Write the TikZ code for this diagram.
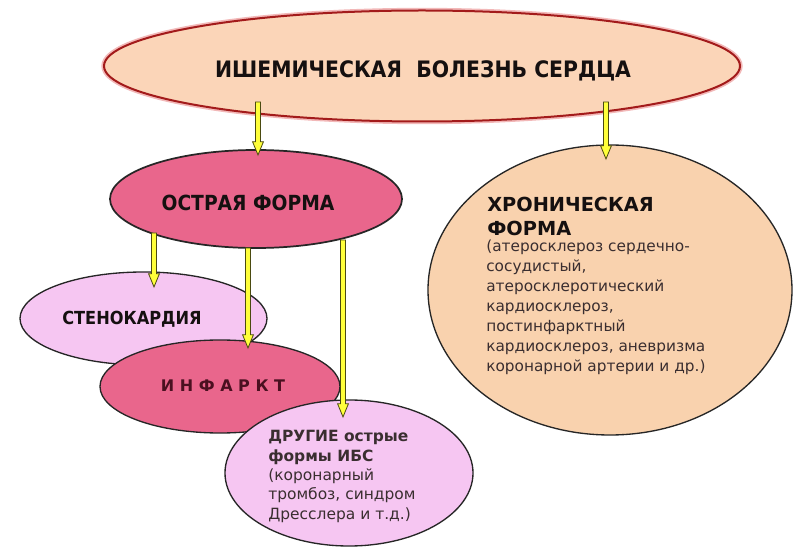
\documentclass[tikz,border=0pt]{standalone}
\usepackage{fontspec}
\setmainfont{DejaVu Sans}
\newfontfamily\condfont{DejaVu Sans Condensed}
\usetikzlibrary{shapes.geometric,calc}
\definecolor{peach}{HTML}{FBD5B8}
\definecolor{peachb}{HTML}{F9D2AE}
\definecolor{rosepink}{HTML}{E9668C}
\definecolor{lilac}{HTML}{F6C6F2}
\definecolor{darkred}{HTML}{A31B1B}
\definecolor{glow}{HTML}{F2B8B8}
\definecolor{arrowfill}{HTML}{FFFF3A}
\definecolor{arrowline}{HTML}{4A4A10}
\definecolor{headtext}{HTML}{151010}
\definecolor{bodytext}{HTML}{3A2E30}
\definecolor{maroon}{HTML}{4A1020}
\tikzset{
  ellbox/.style={ellipse, draw=black!85, line width=1pt, inner sep=0pt},
  barrow/.style={fill=arrowfill, draw=arrowline, line width=0.6pt, line join=miter},
  lbl/.style={inner sep=0pt, text=headtext},
}
\newcommand\blockarrow[2]{%
  \draw[barrow] let \p1=(#1), \p2=(#2) in
    (\x1-1.9pt,\y1) -- (\x1-1.9pt,\y2+10pt) -- (\x1-4.1pt,\y2+10pt) -- (\x1,\y2)
    -- (\x1+4.1pt,\y2+10pt) -- (\x1+1.9pt,\y2+10pt) -- (\x1+1.9pt,\y1) -- cycle;}
\begin{document}
\begin{tikzpicture}[x=0.75pt,y=-0.75pt]
\useasboundingbox (0,0) rectangle (800,552);
\fill[white] (0,0) rectangle (800,552);
% top ellipse with faint glow
\node[ellipse, draw=glow, line width=4pt, minimum width=477pt, minimum height=83.25pt, inner sep=0pt] (topglow) at (422,66) {};
\node[ellbox, fill=peach, draw=darkred, line width=1.5pt, minimum width=477pt, minimum height=83.25pt] (top) at (422,66) {};
\node[lbl, font=\condfont\bfseries\fontsize{17}{20}\selectfont] (title) at (423,70.5) {ИШЕМИЧЕСКАЯ\ \ БОЛЕЗНЬ СЕРДЦА};
% acute
\node[ellbox, fill=rosepink, line width=1.3pt, minimum width=219pt, minimum height=73.5pt] (acute) at (256,199) {};
\node[lbl, font=\condfont\bfseries\fontsize{15.6}{18}\selectfont] (acutet) at (248,203) {ОСТРАЯ ФОРМА};
% chronic
\node[ellbox, fill=peachb, minimum width=273pt, minimum height=217.5pt] (chronic) at (610,290) {};
\node[lbl, anchor=north west, align=left, font=\bfseries\fontsize{14.5}{18}\selectfont] (chronhead) at (487,197) {ХРОНИЧЕСКАЯ\\ФОРМА};
\node[lbl, anchor=north west, align=left, text=bodytext, font=\fontsize{11.5}{15}\selectfont] (chronbody) at (486,240) {(атеросклероз сердечно-\\сосудистый,\\атеросклеротический\\кардиосклероз,\\постинфарктный\\кардиосклероз, аневризма\\коронарной артерии и др.)};
% stenocardia
\node[ellbox, fill=lilac, minimum width=185.25pt, minimum height=69.75pt] (sten) at (143.5,318.5) {};
\node[lbl, font=\condfont\bfseries\fontsize{13.5}{16}\selectfont] (stent) at (132,319) {СТЕНОКАРДИЯ};
% infarct
\node[ellbox, fill=rosepink, minimum width=180pt, minimum height=69.75pt] (inf) at (220,386.5) {};
\node[lbl, text=maroon, font=\bfseries\fontsize{12}{14}\selectfont] (inft) at (223,386) {И Н Ф А Р К Т};
% other acute forms
\node[ellbox, fill=lilac, minimum width=186pt, minimum height=109.5pt] (other) at (349,473) {};
\node[lbl, anchor=north west, align=left, text=bodytext, font=\fontsize{11.6}{14.6}\selectfont] (othert) at (268,430) {\textbf{ДРУГИЕ острые}\\\textbf{формы ИБС}\\(коронарный\\тромбоз, синдром\\Дресслера и т.д.)};
% arrows
\coordinate (s1) at (258,102); \coordinate (e1) at (258,155);
\coordinate (s2) at (606,102); \coordinate (e2) at (606,159);
\coordinate (s3) at (154,233); \coordinate (e3) at (154,287);
\coordinate (s4) at (248,248); \coordinate (e4) at (248,348);
\coordinate (s5) at (343,240); \coordinate (e5) at (343,417);
\blockarrow{s1}{e1}
\blockarrow{s2}{e2}
\blockarrow{s3}{e3}
\blockarrow{s4}{e4}
\blockarrow{s5}{e5}
\end{tikzpicture}
\end{document}
